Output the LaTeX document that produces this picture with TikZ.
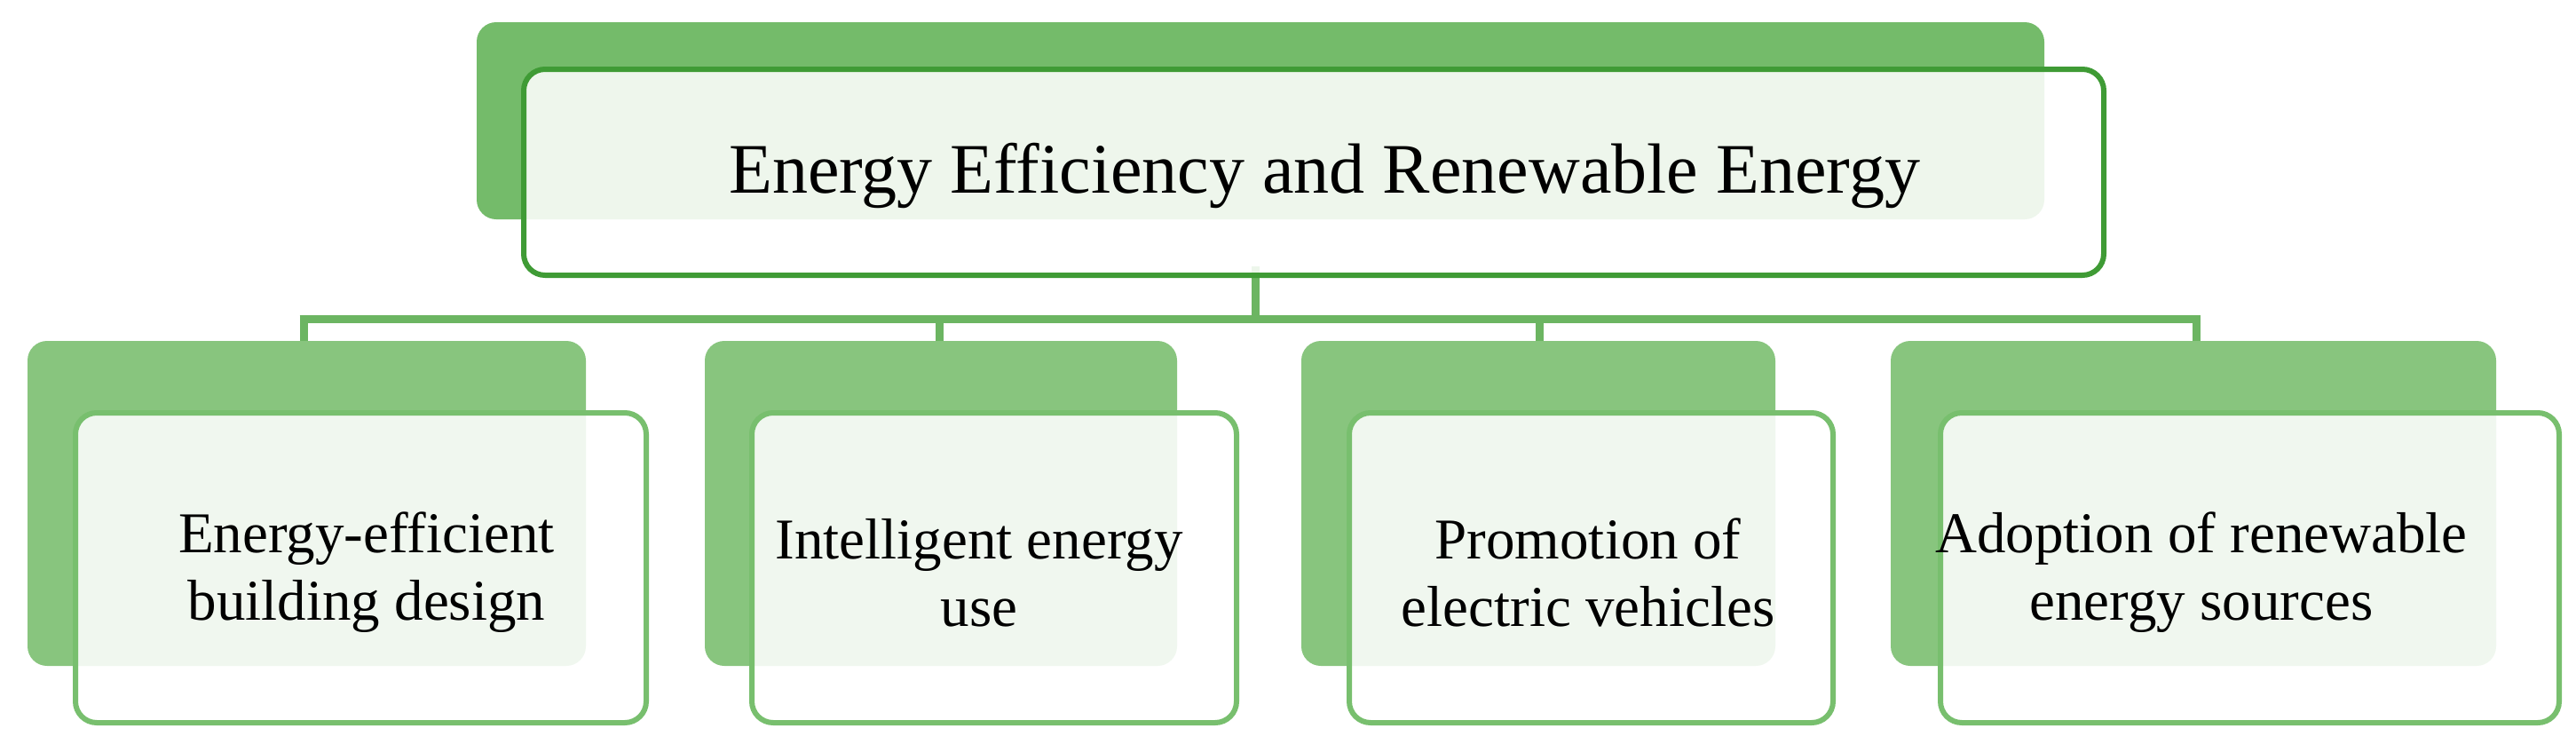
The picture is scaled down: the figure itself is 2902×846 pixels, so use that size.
\documentclass[tikz,border=0pt]{standalone}
\usepackage{fontspec}
\setmainfont{Liberation Serif}
\begin{document}
\begin{tikzpicture}[x=1pt,y=-1pt,
  back/.style={fill=#1, draw=none, rounded corners=22pt},
  front/.style={fill=white, fill opacity=0.88, draw=#1, draw opacity=1, line width=6pt, rounded corners=24pt},
  conn/.style={draw=connc, line width=9pt},
  lbl/.style={text opacity=1, align=center, font=\fontsize{65}{76}\selectfont},
]
\definecolor{backtop}{HTML}{74BB6A}
\definecolor{backch}{HTML}{88C57E}
\definecolor{bordtop}{HTML}{3F9B35}
\definecolor{bordch}{HTML}{78BF6E}
\definecolor{connc}{HTML}{6CB562}
\useasboundingbox (0,0) rectangle (2902,846);
% connectors
\coordinate (hub) at (1414,359);
\coordinate (h1) at (342,359);
\coordinate (h2) at (1058,359);
\coordinate (h3) at (1734,359);
\coordinate (h4) at (2474,359);
\coordinate (d1) at (342,405);
\coordinate (d2) at (1058,405);
\coordinate (d3) at (1734,405);
\coordinate (d4) at (2474,405);
\coordinate (rootb) at (1414,300);
\draw[conn] (rootb) -- (hub);
\draw[conn] ([xshift=-4.5pt]h1) -- ([xshift=4.5pt]h4);
\draw[conn] (h1) -- (d1);
\draw[conn] (h2) -- (d2);
\draw[conn] (h3) -- (d3);
\draw[conn] (h4) -- (d4);
% root
\path[back=backtop] (537,25) rectangle (2303,247);
\path[front=bordtop] (590,78) rectangle (2370,310);
\node[lbl, font=\fontsize{80}{92}\selectfont] (root) at (1492,198) {Energy Efficiency and Renewable Energy};
% children
\path[back=backch] (31,384) rectangle (660,750);
\path[front=bordch] (85,465) rectangle (728,814);
\node[lbl] (c1) at (413,645) {Energy-efficient\\building design};
\path[back=backch] (794,384) rectangle (1326,750);
\path[front=bordch] (847,465) rectangle (1393,814);
\node[lbl] (c2) at (1103,645) {Intelligent energy\\use};
\path[back=backch] (1466,384) rectangle (2000,750);
\path[front=bordch] (1520,465) rectangle (2065,814);
\node[lbl] (c3) at (1789,645) {Promotion of\\electric vehicles};
\path[back=backch] (2130,384) rectangle (2812,750);
\path[front=bordch] (2186,465) rectangle (2883,814);
\node[lbl] (c4) at (2480,645) {Adoption of renewable\\energy sources};
\end{tikzpicture}
\end{document}
